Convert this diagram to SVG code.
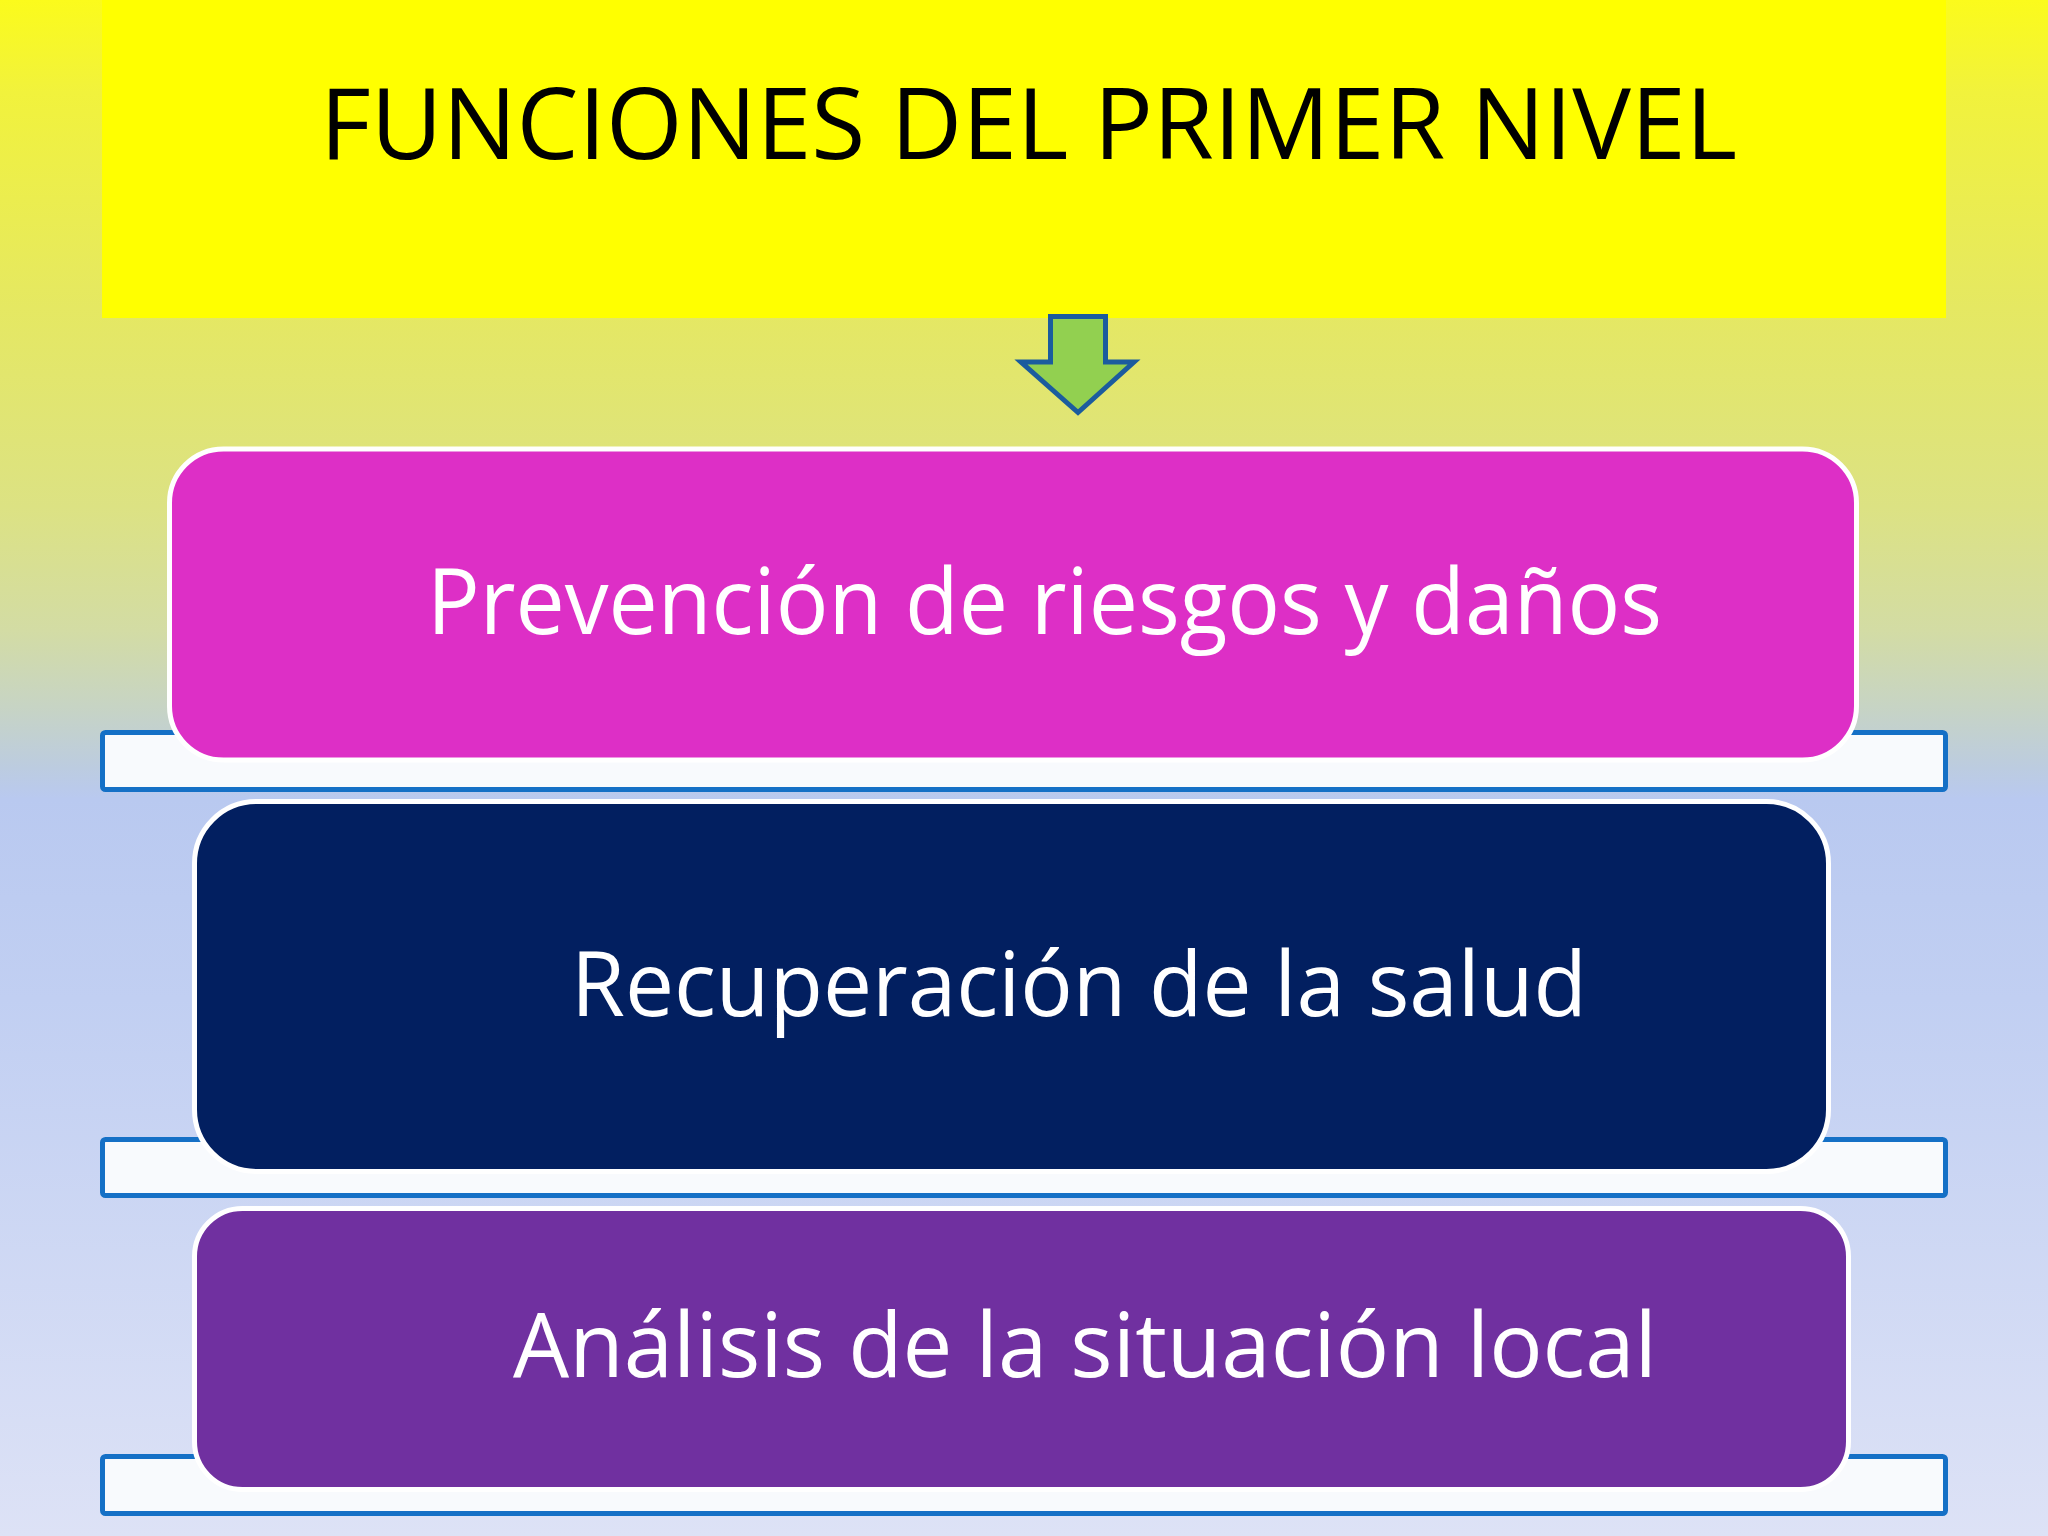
<svg xmlns="http://www.w3.org/2000/svg" width="2048" height="1536" viewBox="0 0 2048 1536">
  <defs>
    <linearGradient id="bg" x1="0" y1="0" x2="0" y2="1">
      <stop offset="0" stop-color="#fbfb1c"/>
      <stop offset="0.06" stop-color="#f1f23c"/>
      <stop offset="0.2" stop-color="#e5e862"/>
      <stop offset="0.33" stop-color="#dce283"/>
      <stop offset="0.41" stop-color="#d3dca4"/>
      <stop offset="0.46" stop-color="#c7d4c4"/>
      <stop offset="0.5" stop-color="#bccce0"/>
      <stop offset="0.52" stop-color="#b9c9f0"/>
      <stop offset="0.65" stop-color="#c1cff2"/>
      <stop offset="1" stop-color="#dde2f6"/>
    </linearGradient>
    <style>
      .bar { fill: #f8fafd; stroke: #1570c6; stroke-width: 5; }
      .box { stroke: #ffffff; stroke-width: 5; }
      .lbl { font-family: "Open Sans", "Noto Sans", "Liberation Sans", sans-serif; fill: #ffffff; }
      .title { font-family: "Open Sans", "Noto Sans", "Liberation Sans", sans-serif; fill: #000000; }
    </style>
  </defs>

  <rect x="0" y="0" width="2048" height="1536" fill="url(#bg)"/>

  <g id="title">
    <rect x="102" y="0" width="1844" height="318" fill="#ffff00"/>
    <text class="title" x="320" y="159" font-size="99" textLength="1417" lengthAdjust="spacingAndGlyphs">FUNCIONES DEL PRIMER NIVEL</text>
  </g>

  <g id="connectors">
    <path d="M1050.5,316.5 H1105.5 V362 H1134 L1078,412.5 L1021,362 H1050.5 Z" fill="#92d050" stroke="#1b5c9e" stroke-width="5" stroke-linejoin="miter"/>
  </g>

  <g id="bars">
    <rect class="bar" x="102.5" y="732.5" width="1843" height="57" rx="3"/>
    <rect class="bar" x="102.5" y="1139.5" width="1843" height="56" rx="3"/>
    <rect class="bar" x="102.5" y="1456.5" width="1843" height="57" rx="3"/>
  </g>

  <g id="node-prevencion">
    <rect class="box" x="169.5" y="449" width="1687" height="311" rx="54" fill="#dd2fc6"/>
    <text class="lbl" x="427" y="634" font-size="91" textLength="1235" lengthAdjust="spacingAndGlyphs">Prevención de riesgos y daños</text>
  </g>

  <g id="node-recuperacion">
    <rect class="box" x="194.5" y="801.5" width="1634" height="370" rx="62" fill="#021f60"/>
    <text class="lbl" x="571" y="1016" font-size="89" textLength="1016" lengthAdjust="spacingAndGlyphs">Recuperación de la salud</text>
  </g>

  <g id="node-analisis">
    <rect class="box" x="194.5" y="1208.5" width="1654" height="281" rx="48" fill="#7030a0"/>
    <text class="lbl" x="513" y="1377" font-size="90" textLength="1144" lengthAdjust="spacingAndGlyphs">Análisis de la situación local</text>
  </g>
</svg>
